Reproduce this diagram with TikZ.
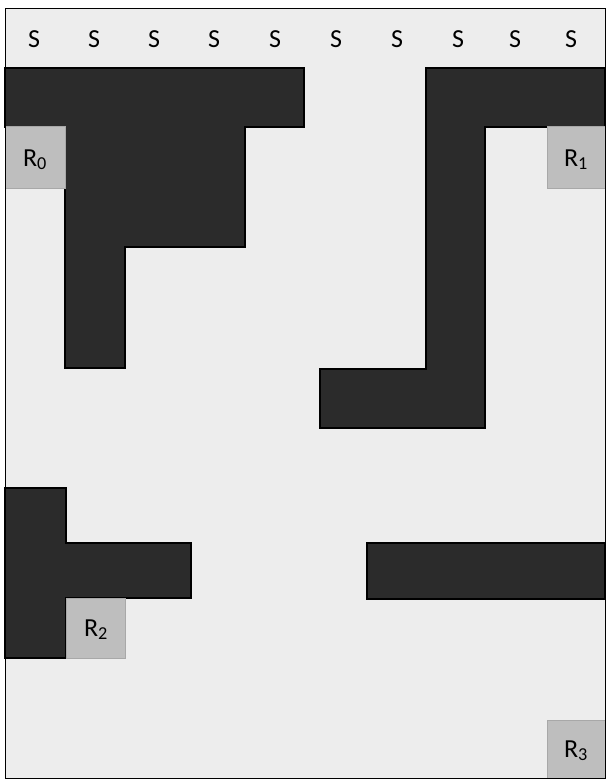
\documentclass[tikz,border=0pt]{standalone}
\usepackage{fontspec}
\setmainfont{Carlito}
\definecolor{bgc}{HTML}{EDEDED}
\definecolor{wallc}{HTML}{2B2B2B}
\definecolor{roomc}{HTML}{BEBEBE}
\definecolor{roomb}{HTML}{A8A8A8}
\begin{document}
\begin{tikzpicture}[x=1pt,y=-1pt,
  wall/.style={fill=wallc,draw=black,line width=1.3pt,line join=miter},
  room/.style={fill=roomc,draw=roomb,line width=1pt},
  lab/.style={font=\fontsize{26}{30}\selectfont,anchor=base,inner sep=0pt}]
\useasboundingbox (0,0) rectangle (610,781);
\fill[bgc] (5,9) rectangle (605,778);
% walls
\draw[wall] (5,68) -- (304,68) -- (304,127) -- (245,127) -- (245,247) -- (125,247)
  -- (125,368) -- (65,368) -- (65,127) -- (5,127) -- cycle;
\draw[wall] (426,68) -- (605,68) -- (605,127) -- (485,127) -- (485,428) -- (320,428)
  -- (320,369) -- (426,369) -- cycle;
\draw[wall] (5,488) -- (66,488) -- (66,543) -- (191,543) -- (191,598) -- (66,598)
  -- (66,658) -- (5,658) -- cycle;
\draw[wall] (367,543) rectangle (605,599);
% rooms
\draw[room] (5,127) rectangle (65,188);
\draw[room] (547,127) rectangle (605,188);
\draw[room] (66,598) rectangle (125,658);
\draw[room] (547,720) rectangle (605,778);
% frame
\draw[black,line width=1pt] (5,9) rectangle (605,778);
% labels
\foreach \i/\x in {0/34,1/94,2/154,3/214,4/275,5/336,6/397,7/458,8/515,9/571}
  \node[lab] (s\i) at (\x,48) {S};
\node[lab] (r0) at (35,166) {R\textsubscript{0}};
\node[lab] (r1) at (576,166) {R\textsubscript{1}};
\node[lab] (r2) at (96,636) {R\textsubscript{2}};
\node[lab] (r3) at (576,757) {R\textsubscript{3}};
\end{tikzpicture}
\end{document}
